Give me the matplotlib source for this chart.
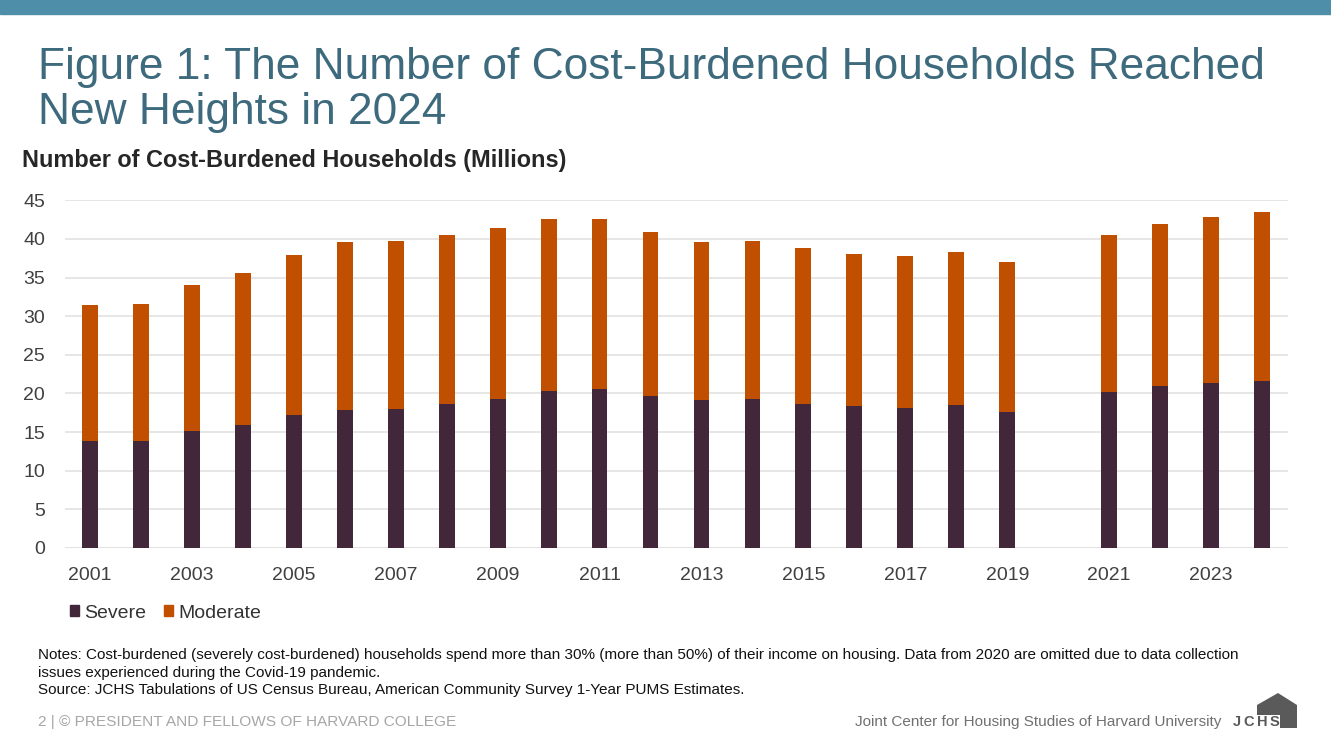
import matplotlib.pyplot as plt
import numpy as np
from matplotlib.patches import Rectangle, Polygon, Patch

plt.rcParams['font.family'] = ['Liberation Sans', 'DejaVu Sans']

years = [2001, 2002, 2003, 2004, 2005, 2006, 2007, 2008, 2009, 2010, 2011, 2012,
         2013, 2014, 2015, 2016, 2017, 2018, 2019, 2020, 2021, 2022, 2023, 2024]
# 2020 omitted (no data)
severe = [13.9, 13.9, 15.1, 15.9, 17.2, 17.9, 18.0, 18.6, 19.3, 20.3, 20.6, 19.7,
          19.2, 19.3, 18.6, 18.4, 18.1, 18.5, 17.6, np.nan, 20.2, 21.0, 21.4, 21.6]
total = [31.5, 31.6, 34.0, 35.6, 37.9, 39.6, 39.7, 40.5, 41.4, 42.6, 42.6, 40.9,
         39.6, 39.7, 38.8, 38.0, 37.8, 38.3, 37.0, np.nan, 40.5, 41.9, 42.8, 43.5]
moderate = [t - s for t, s in zip(total, severe)]

c_severe = '#42273b'
c_moderate = '#c04f00'
c_title = '#3d6a7c'

W, H = 1331, 747
fig = plt.figure(figsize=(W / 100, H / 100), dpi=100)

def fy(py):
    return 1 - py / H

# top band
fig.patches.append(Rectangle((0, fy(14)), 1, 14 / H, transform=fig.transFigure,
                             color='#4f8ea8', zorder=0))

ax = fig.add_axes([64.5 / W, fy(548), (1287.5 - 64.5) / W, (548 - 200.3) / H])
x = np.arange(len(years))
ax.bar(x, severe, width=0.31, color=c_severe, zorder=2, label='Severe')
ax.bar(x, moderate, width=0.31, bottom=severe, color=c_moderate, zorder=2, label='Moderate')

ax.set_xlim(-0.5, len(years) - 0.5)
ax.set_ylim(0, 45)
ax.set_yticks(range(0, 46, 5))
ax.set_xticks(x[::2])
ax.set_xticklabels([str(y) for y in years[::2]])
ax.grid(axis='y', color='#e2e2e2', lw=1.2, zorder=1)
for spine in ax.spines.values():
    spine.set_visible(False)
ax.axhline(0, color='#e2e2e2', lw=1.2, zorder=1)
ax.tick_params(length=0, labelsize=14, labelcolor='#404040')
ax.tick_params(axis='x', pad=14)
ax.tick_params(axis='y', pad=14)

handles = [Patch(color=c_severe, label='Severe'), Patch(color=c_moderate, label='Moderate')]
fig.legend(handles=handles, loc='center left', bbox_to_anchor=(52 / W, fy(613)),
           ncol=2, frameon=False, fontsize=14, handlelength=0.5, handleheight=0.5,
           handletextpad=0.25, columnspacing=0.9, labelcolor='#333333')

fig.text(38 / W, fy(79), 'Figure 1: The Number of Cost-Burdened Households Reached',
         fontsize=31.9, color=c_title, ha='left', va='baseline')
fig.text(38 / W, fy(124), 'New Heights in 2024',
         fontsize=31.9, color=c_title, ha='left', va='baseline')
fig.text(22 / W, fy(161), 'Number of Cost-Burdened Households (Millions)',
         fontsize=16.9, fontweight='bold', color='#262626', ha='left', va='center')

notes = ('Notes: Cost-burdened (severely cost-burdened) households spend more than 30% (more than 50%) '
         'of their income on housing. Data from 2020 are omitted due to data collection\n'
         'issues experienced during the Covid-19 pandemic.\n'
         'Source: JCHS Tabulations of US Census Bureau, American Community Survey 1-Year PUMS Estimates.')
fig.text(38 / W, fy(648), notes, fontsize=11, color='#111111', ha='left', va='top', linespacing=1.33)

fig.text(38 / W, fy(722), '2 | © PRESIDENT AND FELLOWS OF HARVARD COLLEGE',
         fontsize=11.1, color='#a6a6a6', ha='left', va='center')
fig.text(1221 / W, fy(722), 'Joint Center for Housing Studies of Harvard University',
         fontsize=11, color='#707070', ha='right', va='center')

# logo
house = [(1257, 715), (1257, 705), (1278, 693), (1297, 705), (1297, 728), (1280, 728), (1280, 715)]
fig.patches.append(Polygon([(px / W, fy(py)) for px, py in house], closed=True,
                           transform=fig.transFigure, color='#5a5a5a', lw=0))
for letter, px in zip('JCHS', [1237, 1249, 1262, 1274]):
    fig.text(px / W, fy(722.5), letter, fontsize=10.5, fontweight='bold', color='#5a5a5a',
             ha='center', va='center')

fig.savefig('out.png', dpi=100)
